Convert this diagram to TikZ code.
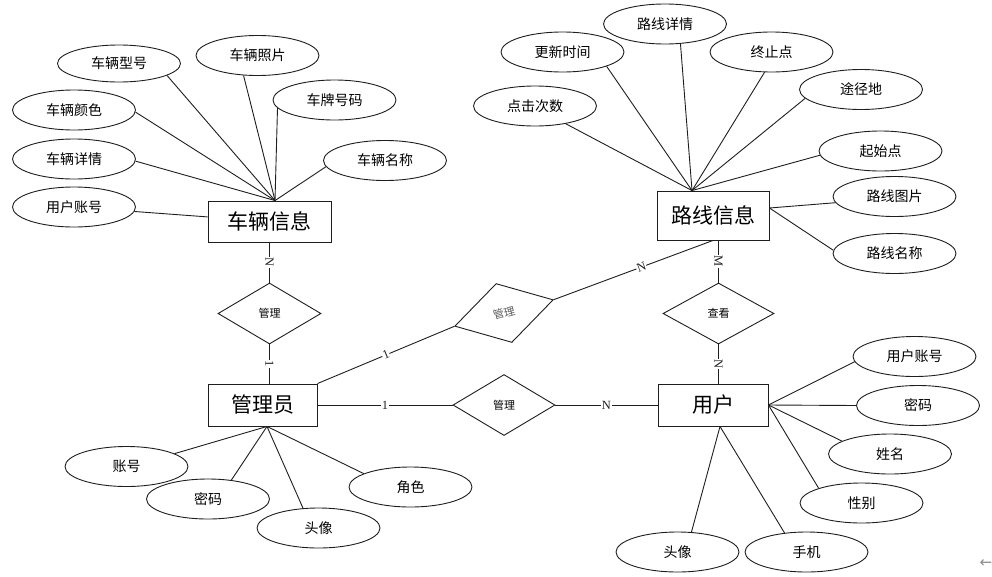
\documentclass[tikz,border=0pt]{standalone}
\usepackage{fontspec}
\setmainfont{Noto Sans CJK SC}
\newfontfamily\cardfont{Liberation Serif}
\newfontfamily\symfont{DejaVu Sans}
\usepackage{tikz}
\usetikzlibrary{shapes.geometric}
\definecolor{ERLine}{RGB}{30,30,30}
\definecolor{ERGray}{RGB}{140,140,140}
\definecolor{ERSoft}{RGB}{90,90,90}

\begin{document}
\begin{tikzpicture}[x=1pt,y=-1pt,line width=0.9pt,
    entity/.style={draw=ERLine,rectangle,minimum width=110pt,minimum height=42pt,inner sep=0pt,font=\fontsize{21}{24}\selectfont},
    attr/.style={draw=ERLine,ellipse,minimum width=123pt,minimum height=40pt,inner sep=0pt,font=\fontsize{14}{16}\selectfont},
    rel/.style={draw=ERLine,diamond,minimum width=102pt,minimum height=61pt,inner sep=0pt,font=\fontsize{11}{13}\selectfont},
    card/.style={fill=white,inner sep=0.6pt,sloped,font=\cardfont\fontsize{12.5}{13}\selectfont}]
      \useasboundingbox (0,0) rectangle (992,576);
      % entities
      \node[entity,minimum width=123pt,minimum height=41pt] (car) at (269.5,221.5) {车辆信息};
      \node[entity,minimum width=112pt,minimum height=49pt] (route) at (713,215.5) {路线信息};
      \node[entity,minimum width=109pt] (admin) at (262.5,405) {管理员};
      \node[entity] (user) at (713,405) {用户};
      % relations
      \node[rel,minimum width=103pt] (manCar) at (269.5,313.5) {管理};
      \node[rel,rotate=15,text=ERSoft] (manRoute) at (504,313) {管理};
      \node[rel] (manUser) at (504,405) {管理};
      \node[rel,minimum width=111pt] (view) at (718.5,313.5) {查看};
      % attributes of car
      \node[attr,minimum height=37pt] (carModel) at (119,63.5) {车辆型号};
      \node[attr] (carPhoto) at (257.5,55.5) {车辆照片};
      \node[attr] (carPlate) at (334.5,100) {车牌号码};
      \node[attr] (carColor) at (74,110) {车辆颜色};
      \node[attr] (carDetail) at (74,159) {车辆详情};
      \node[attr] (carName) at (385,160.5) {车辆名称};
      \node[attr] (carUser) at (74,207) {用户账号};
      % attributes of route
      \node[attr] (routeDetail) at (665,24) {路线详情};
      \node[attr] (routeTime) at (562.5,52) {更新时间};
      \node[attr] (routeEnd) at (771.5,52) {终止点};
      \node[attr] (routeVia) at (861,89.5) {途径地};
      \node[attr] (routeClick) at (535,106) {点击次数};
      \node[attr] (routeStart) at (880.5,151) {起始点};
      \node[attr] (routeImg) at (894.5,196.5) {路线图片};
      \node[attr] (routeName) at (894.5,253.5) {路线名称};
      % attributes of admin
      \node[attr] (adminAcc) at (126.5,466.5) {账号};
      \node[attr] (adminPwd) at (208,499) {密码};
      \node[attr] (adminAvatar) at (318.5,528) {头像};
      \node[attr] (adminRole) at (410.5,487) {角色};
      % attributes of user
      \node[attr] (userAcc) at (914.5,356.5) {用户账号};
      \node[attr] (userPwd) at (918,405.5) {密码};
      \node[attr] (userName) at (890,454) {姓名};
      \node[attr] (userSex) at (861.5,503) {性别};
      \node[attr] (userAvatar) at (677.5,552) {头像};
      \node[attr] (userPhone) at (806.5,552) {手机};
      \node[text=ERGray,inner sep=0pt,font=\symfont\fontsize{15}{16}\selectfont] (backArrow) at (986,564) {←};
      % meeting points
      \coordinate (carTop) at ([xshift=5.5pt]car.north);
      \coordinate (routeTop) at ([xshift=-21pt]route.north);
      \coordinate (routeRight) at ([yshift=7.5pt]route.east);
      \coordinate (adminBot) at ([xshift=4.5pt]admin.south);
      \coordinate (userBot) at ([xshift=7pt]user.south);
      % attribute lines
      \foreach \a in {carModel.-14,carPhoto.-125,carPlate.-172,carColor.-2,carDetail.-2,carName.186}
        \draw[ERLine] (\a) -- (carTop);
      \draw[ERLine] (carUser) -- (car);
      \foreach \a in {routeDetail.-52,routeTime.-18,routeClick.-30,routeEnd.-109,routeVia.-171,routeStart.-176}
        \draw[ERLine] (\a) -- (routeTop);
      \draw[ERLine] (routeImg.-174) -- (routeRight);
      \draw[ERLine] (routeName.177) -- (routeRight);
      \foreach \a in {adminAcc.15,adminPwd.39,adminAvatar.128,adminRole.164}
        \draw[ERLine] (\a) -- (adminBot);
      \foreach \a in {userAcc.-175,userPwd.180,userName.165,userSex.161}
        \draw[ERLine] (\a) -- (user.east);
      \foreach \a in {userAvatar.55,userPhone.139}
        \draw[ERLine] (\a) -- (userBot);
      % relation lines
      \draw[ERLine] (car.south) -- node[card]{N} (manCar.north);
      \draw[ERLine] (manCar.south) -- node[card]{1} (manCar.south |- admin.north);
      \draw[ERLine] (admin.north east) -- node[card]{1} (manRoute.west);
      \draw[ERLine] (manRoute.east) -- node[card,pos=.55]{N} (route.south);
      \draw[ERLine] (view.north |- route.south) -- node[card]{M} (view.north);
      \draw[ERLine] (view.south) -- node[card]{N} (view.south |- user.north);
      \draw[ERLine] (admin.east) -- node[card]{1} (manUser.west);
      \draw[ERLine] (manUser.east) -- node[card]{N} (user.west);
    \end{tikzpicture}
\end{document}
